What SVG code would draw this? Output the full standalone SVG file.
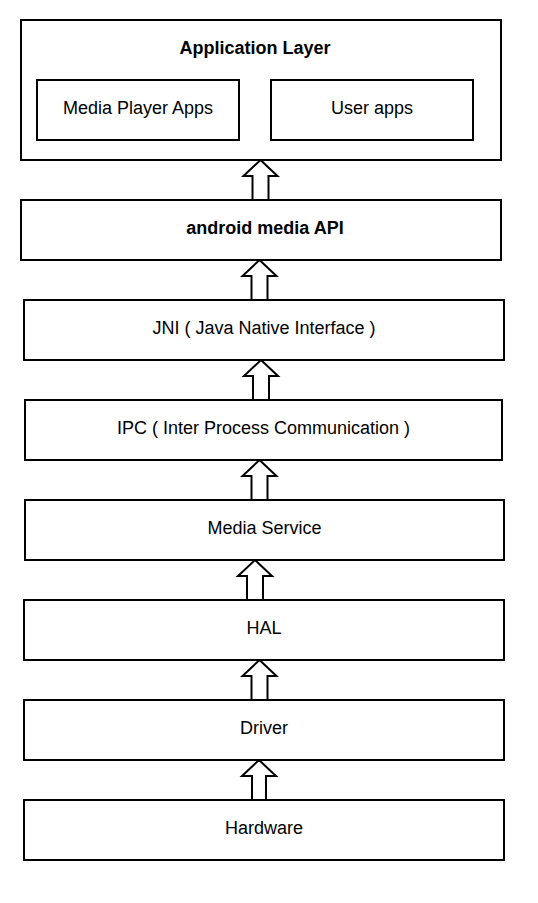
<svg xmlns="http://www.w3.org/2000/svg" width="538" height="903" viewBox="0 0 538 903">
<style>
.box{fill:#fff;stroke:#000;stroke-width:2}
.arr{fill:#fff;stroke:#000;stroke-width:2;stroke-linejoin:miter}
.t{font-family:"Liberation Sans",Arial,sans-serif;font-size:18px;fill:#000;text-anchor:middle}
.b{font-weight:bold}
</style>
<rect width="538" height="903" fill="#fff"/>
<g id="connectors">
<path class="arr" d="M260.5,160 L277.5,176 L268.5,176 L268.5,200 L252.5,200 L252.5,176 L243.5,176 Z"/>
<path class="arr" d="M259.5,260 L276.5,276 L267.5,276 L267.5,300 L251.5,300 L251.5,276 L242.5,276 Z"/>
<path class="arr" d="M261,360 L278,376 L269,376 L269,400 L253,400 L253,376 L244,376 Z"/>
<path class="arr" d="M259.5,460 L276.5,476 L267.5,476 L267.5,500 L251.5,500 L251.5,476 L242.5,476 Z"/>
<path class="arr" d="M255,560 L272,576 L263,576 L263,600 L247,600 L247,576 L238,576 Z"/>
<path class="arr" d="M259.5,660 L276.5,676 L267.5,676 L267.5,700 L251.5,700 L251.5,676 L242.5,676 Z"/>
<path class="arr" d="M259,760 L276,776 L266,776 L266,800 L252,800 L252,776 L242,776 Z"/>
</g>
<g id="app-layer">
<rect class="box" x="21" y="20" width="480" height="140"/>
<text class="t b" x="255" y="54">Application Layer</text>
</g>
<g id="media-player-apps">
<rect class="box" x="37" y="80" width="202" height="60"/>
<text class="t" x="138" y="114">Media Player Apps</text>
</g>
<g id="user-apps">
<rect class="box" x="271" y="80" width="202" height="60"/>
<text class="t" x="372" y="114">User apps</text>
</g>
<g id="android-media-api">
<rect class="box" x="21" y="200" width="480" height="60"/>
<text class="t b" x="265" y="234">android media API</text>
</g>
<g id="jni">
<rect class="box" x="24" y="300" width="480" height="60"/>
<text class="t" x="264" y="334">JNI ( Java Native Interface )</text>
</g>
<g id="ipc">
<rect class="box" x="25" y="400" width="477" height="60"/>
<text class="t" x="263.5" y="434">IPC ( Inter Process Communication )</text>
</g>
<g id="media-service">
<rect class="box" x="25" y="500" width="479" height="60"/>
<text class="t" x="264.5" y="534">Media Service</text>
</g>
<g id="hal">
<rect class="box" x="24" y="600" width="480" height="60"/>
<text class="t" x="264" y="634">HAL</text>
</g>
<g id="driver">
<rect class="box" x="24" y="700" width="480" height="60"/>
<text class="t" x="264" y="734">Driver</text>
</g>
<g id="hardware">
<rect class="box" x="24" y="800" width="480" height="60"/>
<text class="t" x="264" y="834">Hardware</text>
</g>
</svg>
